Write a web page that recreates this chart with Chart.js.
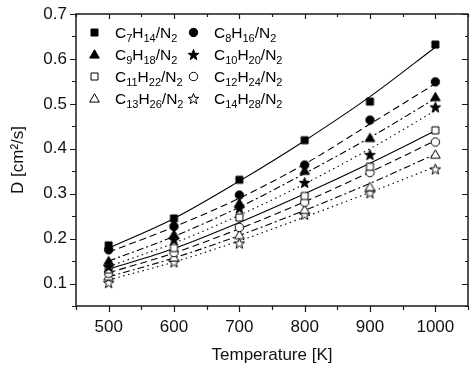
<!DOCTYPE html>
<html>
<head>
<meta charset="utf-8">
<script src="https://cdn.jsdelivr.net/npm/chart.js@4.4.0/dist/chart.umd.min.js"></script>
<style>
  html, body { margin: 0; padding: 0; background: #fff; }
  #wrap { width: 474px; height: 369px; }
</style>
</head>
<body>
<div id="wrap"><canvas id="myChart"></canvas></div>
<script>
// temperatures [K]
var temps = [500, 600, 700, 800, 900, 1000];
var yTicks = [0.1, 0.2, 0.3, 0.4, 0.5, 0.6, 0.7];
var names = ["C7H14/N2", "C8H16/N2", "C9H18/N2", "C10H20/N2",
             "C11H22/N2", "C12H24/N2", "C13H26/N2", "C14H28/N2"];

// measured D [cm2/s]
var dC7  = [0.185, 0.245, 0.331, 0.419, 0.505, 0.632];
var dC8  = [0.175, 0.227, 0.297, 0.364, 0.464, 0.549];
var dC9  = [0.150, 0.209, 0.279, 0.351, 0.424, 0.515];
var dC10 = [0.138, 0.198, 0.268, 0.325, 0.387, 0.493];
var dC11 = [0.131, 0.179, 0.247, 0.295, 0.360, 0.441];
var dC12 = [0.123, 0.169, 0.225, 0.281, 0.347, 0.415];
var dC13 = [0.116, 0.158, 0.208, 0.264, 0.315, 0.387];
var dC14 = [0.102, 0.148, 0.190, 0.254, 0.302, 0.355];

// fitted curves, read at the same temperatures
var fC7  = [0.179, 0.245, 0.328, 0.418, 0.516, 0.626];
var fC8  = [0.170, 0.226, 0.290, 0.366, 0.455, 0.545];
var fC9  = [0.150, 0.205, 0.270, 0.345, 0.425, 0.512];
var fC10 = [0.138, 0.190, 0.252, 0.322, 0.400, 0.485];
var fC11 = [0.132, 0.178, 0.236, 0.300, 0.368, 0.440];
var fC12 = [0.124, 0.168, 0.222, 0.282, 0.348, 0.418];
var fC13 = [0.115, 0.157, 0.207, 0.263, 0.323, 0.388];
var fC14 = [0.108, 0.148, 0.195, 0.248, 0.303, 0.360];

var measured = [dC7, dC8, dC9, dC10, dC11, dC12, dC13, dC14];
var fitted = [fC7, fC8, fC9, fC10, fC11, fC12, fC13, fC14];

var shapes = ["square", "circle", "triangle", "star", "square", "circle", "triangle", "star"];
var filled = [true, true, true, true, false, false, false, false];
var dashes = [[], [7, 4], [7, 3, 2, 3], [1.5, 3.5], [], [7, 4], [7, 3, 2, 3], [1.5, 3.5]];

var FONT = "'Liberation Sans', Arial, Helvetica, sans-serif";

function makeMarker(shape, full) {
  var s = 13, m = 6.5;
  var c = document.createElement("canvas");
  c.width = s; c.height = s;
  var g = c.getContext("2d");
  g.fillStyle = full ? "#000" : "#fff";
  g.strokeStyle = "#000";
  g.lineWidth = 1;
  g.beginPath();
  if (shape === "square") {
    g.rect(3, 3, 7, 7);
  } else if (shape === "circle") {
    g.arc(m, m, 4.2, 0, Math.PI * 2);
  } else if (shape === "triangle") {
    g.moveTo(m, m - 4.8); g.lineTo(m + 4.8, m + 3.6); g.lineTo(m - 4.8, m + 3.6); g.closePath();
  } else {
    for (var i = 0; i < 10; i++) {
      var r = i % 2 === 0 ? 5.6 : 2.3;
      var a = -Math.PI / 2 + i * Math.PI / 5;
      var px = m + r * Math.cos(a), py = m + 0.6 + r * Math.sin(a);
      if (i === 0) g.moveTo(px, py); else g.lineTo(px, py);
    }
    g.closePath();
  }
  g.fill();
  g.stroke();
  return c;
}

var markers = shapes.map(function (s, i) { return makeMarker(s, filled[i]); });

function xy(ys) {
  return temps.map(function (t, i) { return { x: t, y: ys[i] }; });
}

var datasets = [];
fitted.forEach(function (f, i) {
  datasets.push({
    data: xy(f), type: "line", showLine: true, pointRadius: 0,
    borderColor: "#000", borderWidth: 1.1, borderDash: dashes[i],
    cubicInterpolationMode: "monotone", fill: false, order: 2
  });
});
measured.forEach(function (d, i) {
  datasets.push({
    label: names[i], data: xy(d), type: "scatter", showLine: false,
    pointStyle: markers[i], pointRadius: 5, order: 1
  });
});

// draw "C7H14/N2" with subscripted digits
function drawFormula(ctx, text, x, y) {
  var parts = text.split(/(\d+)/);
  ctx.textBaseline = "alphabetic";
  ctx.textAlign = "left";
  parts.forEach(function (p, k) {
    if (!p) return;
    var sub = k % 2 === 1;
    ctx.font = (sub ? "11px " : "15.5px ") + FONT;
    ctx.fillText(p, x, y + (sub ? 4 : 0));
    x += ctx.measureText(p).width;
  });
}

var framePlugin = {
  id: "frame",
  afterDraw: function (chart) {
    var a = chart.chartArea, ctx = chart.ctx;
    var xs = chart.scales.x, ys = chart.scales.y;
    ctx.save();
    ctx.strokeStyle = "#1a1a1a";
    ctx.lineWidth = 1.5;
    ctx.strokeRect(a.left, a.top, a.right - a.left, a.bottom - a.top);
    ctx.lineWidth = 1.2;
    ctx.beginPath();
    for (var t = 450; t <= 1050; t += 50) {
      var px = Math.round(xs.getPixelForValue(t)) + 0.5;
      var big = t % 100 === 0;
      ctx.moveTo(px, a.bottom); ctx.lineTo(px, a.bottom + (big ? 6 : 4));
      ctx.moveTo(px, a.top); ctx.lineTo(px, a.top + (big ? 5 : 3));
    }
    for (var k = 1; k <= 14; k++) {
      var py = Math.round(ys.getPixelForValue(k * 0.05)) + 0.5;
      var major = k % 2 === 0;
      ctx.moveTo(a.left, py); ctx.lineTo(a.left - (major ? 6 : 4), py);
      ctx.moveTo(a.right, py); ctx.lineTo(a.right - (major ? 6 : 3), py);
    }
    ctx.stroke();

    // legend, two columns
    ctx.fillStyle = "#000";
    for (var i = 0; i < names.length; i++) {
      var col = i % 2, row = Math.floor(i / 2);
      var mx = 94 + col * 99, my = 32 + row * 22.2;
      ctx.drawImage(markers[i], Math.round(mx - 6.5), Math.round(my - 6.5));
      drawFormula(ctx, names[i], mx + 21, my + 5.5);
    }
    ctx.restore();
  }
};

new Chart("myChart", {
  data: { datasets: datasets },
  options: {
    responsive: true,
    maintainAspectRatio: false,
    animation: false,
    layout: { padding: { left: 0, right: 2, top: 14, bottom: 0 } },
    plugins: { legend: { display: false }, tooltip: { enabled: false } },
    scales: {
      x: {
        type: "linear", min: 450, max: 1050,
        grid: { display: false, drawTicks: false },
        border: { display: false },
        afterBuildTicks: function (s) { s.ticks = temps.map(function (v) { return { value: v }; }); },
        ticks: {
          padding: 11, color: "#111", font: { family: FONT, size: 17 },
          callback: function (v) { return String(v); }
        },
        title: {
          display: true, text: "Temperature [K]", color: "#111",
          font: { family: FONT, size: 17 }, padding: { top: 0, bottom: 3 }
        },
        afterFit: function (s) { s.height = 63; s.paddingLeft = 0; s.paddingRight = 0; }
      },
      y: {
        type: "linear", min: 0.05, max: 0.7,
        grid: { display: false, drawTicks: false },
        border: { display: false },
        afterBuildTicks: function (s) { s.ticks = yTicks.map(function (v) { return { value: v }; }); },
        ticks: {
          padding: 9, color: "#111", font: { family: FONT, size: 17 },
          callback: function (v) { return v.toFixed(1); }
        },
        title: {
          display: true, text: "D [cm²/s]", color: "#111",
          font: { family: FONT, size: 17 }, padding: { top: 8, bottom: 0 }
        },
        afterFit: function (s) { s.width = 76; s.paddingTop = 0; s.paddingBottom = 0; }
      }
    }
  },
  plugins: [framePlugin]
});
</script>
</body>
</html>
